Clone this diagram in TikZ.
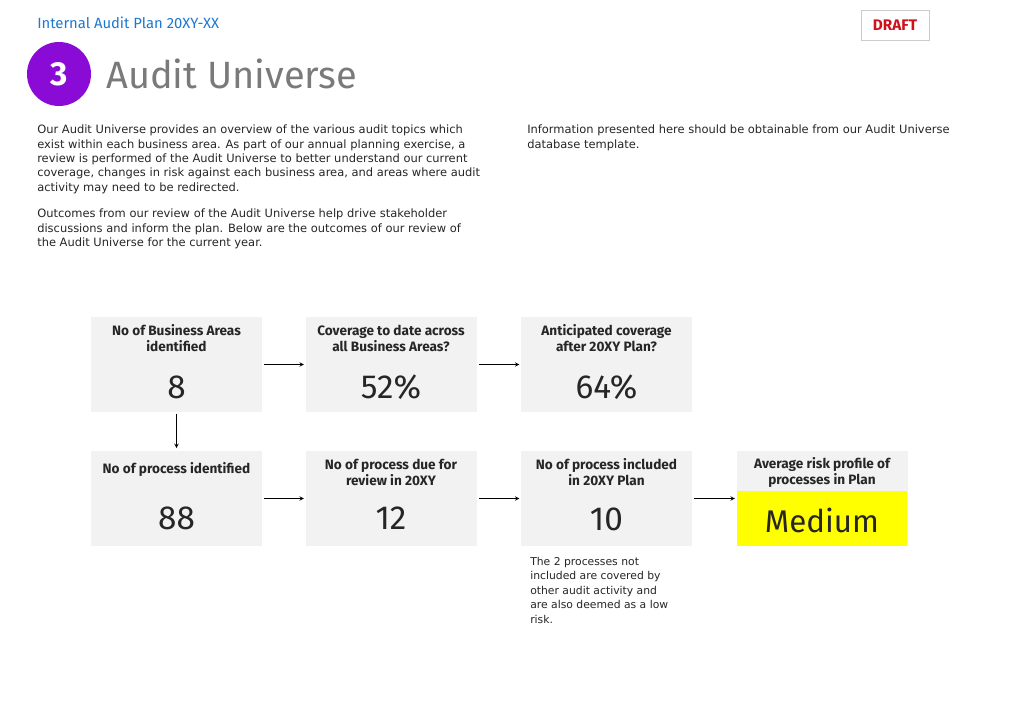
\documentclass[tikz,border=0pt]{standalone}
\usepackage{fontspec}
\setmainfont{DejaVu Sans}
\newfontfamily\headfont{Fira Sans}
\usetikzlibrary{positioning}
\definecolor{auditblue}{HTML}{1F78D1}
\definecolor{auditpurple}{HTML}{8A0AD6}
\definecolor{auditgrey}{HTML}{7A7A7A}
\definecolor{boxgrey}{HTML}{F2F2F2}
\definecolor{draftred}{HTML}{D0101B}
\definecolor{riskyellow}{HTML}{FFFF00}
\tikzset{>=stealth}
\tikzset{
  statbox/.style={fill=boxgrey, minimum width=128.25pt, minimum height=71.25pt, inner sep=0pt},
  boxtitle/.style={font=\headfont\bfseries\fontsize{10.2}{12}\selectfont, align=center, text=black!85},
  boxvalue/.style={font=\headfont\fontsize{25}{28}\selectfont, text=black!85},
  bodytext/.style={font=\fontsize{8.6}{10.75}\selectfont, align=left, anchor=north west, inner sep=0pt, text=black!85},
  flow/.style={->, line width=0.5pt, black}
}

\begin{document}
\begin{tikzpicture}[x=0.75pt, y=-0.75pt]
    \useasboundingbox[fill=white] (0,0) rectangle (1024,707);
    % header
    \node[anchor=west, inner sep=0pt, text=auditblue, font=\headfont\fontsize{11.1}{13}\selectfont] (plan) at (37,23) {Internal Audit Plan 20XY-XX};
    \node[draw=black!20, fill=white, minimum width=51pt, minimum height=22.5pt, inner sep=0pt,
          text=draftred, font=\headfont\bfseries\fontsize{11.5}{13}\selectfont] (draft) at (895,25) {DRAFT};
    \node[circle, fill=auditpurple, minimum size=48pt, inner sep=0pt, text=white,
          font=\headfont\bfseries\fontsize{25}{28}\selectfont] (num) at (59,74) {3};
    \node[anchor=west, inner sep=0pt, text=auditgrey, font=\headfont\fontsize{28.5}{31}\selectfont] (title) at (106,74) {Audit Universe};

    % intro text
    \node[bodytext] (introa) at (37,125) {Our Audit Universe provides an overview of the various audit topics which\\
      exist within each business area. As part of our annual planning exercise, a\\
      review is performed of the Audit Universe to better understand our current\\
      coverage, changes in risk against each business area, and areas where audit\\
      activity may need to be redirected.};
    \node[bodytext] (introb) at (37,209) {Outcomes from our review of the Audit Universe help drive stakeholder\\
      discussions and inform the plan. Below are the outcomes of our review of\\
      the Audit Universe for the current year.};
    \node[bodytext] (info) at (527,125) {Information presented here should be obtainable from our Audit Universe\\
      database template.};

    % first row
    \node[statbox] (areas) at (176.5,364.5) {};
    \node[statbox] (cover) at (391,364.5) {};
    \node[statbox] (antic) at (606.5,364.5) {};
    % second row
    \node[statbox] (procs) at (176.5,498.5) {};
    \node[statbox] (due) at (391,498.5) {};
    \node[statbox] (incl) at (606.5,498.5) {};
    \node[statbox] (risk) at (822,498.5) {};
    \fill[riskyellow] (737,491) rectangle (907,546);

    \node[boxtitle] at (176.5,338) {No of Business Areas\\identified};
    \node[boxtitle] at (391,338) {Coverage to date across\\all Business Areas?};
    \node[boxtitle] at (606.5,338) {Anticipated coverage\\after 20XY Plan?};
    \node[boxtitle] at (176.5,469) {No of process identified};
    \node[boxtitle] at (391,472) {No of process due for\\review in 20XY};
    \node[boxtitle] at (606.5,472) {No of process included\\in 20XY Plan};
    \node[boxtitle] at (822,472) {Average risk profile of\\processes in Plan};

    \node[boxvalue] at (176.5,387) {8};
    \node[boxvalue] at (391,387) {52\%};
    \node[boxvalue] at (606.5,387) {64\%};
    \node[boxvalue] at (176.5,518) {88};
    \node[boxvalue] at (391,518) {12};
    \node[boxvalue] at (606.5,519) {10};
    \node[boxvalue, font=\headfont\fontsize{23.5}{28}\selectfont] at (822,520) {Medium};

    \node[bodytext, font=\fontsize{8.1}{10.8}\selectfont] (note) at (530,557) {The 2 processes not\\
      included are covered by\\
      other audit activity and\\
      are also deemed as a low\\
      risk.};

    % connectors
    \draw[flow] ([xshift=1.5pt]areas.east) -- ([xshift=-1pt]cover.west);
    \draw[flow] ([xshift=1.5pt]cover.east) -- ([xshift=-1pt]antic.west);
    \draw[flow] ([yshift=-1pt]areas.south) -- ([yshift=2pt]procs.north);
    \draw[flow] ([xshift=1.5pt]procs.east) -- ([xshift=-1pt]due.west);
    \draw[flow] ([xshift=1.5pt]due.east) -- ([xshift=-1pt]incl.west);
    \draw[flow] ([xshift=1.5pt]incl.east) -- ([xshift=-1pt]risk.west);
\end{tikzpicture}
\end{document}
